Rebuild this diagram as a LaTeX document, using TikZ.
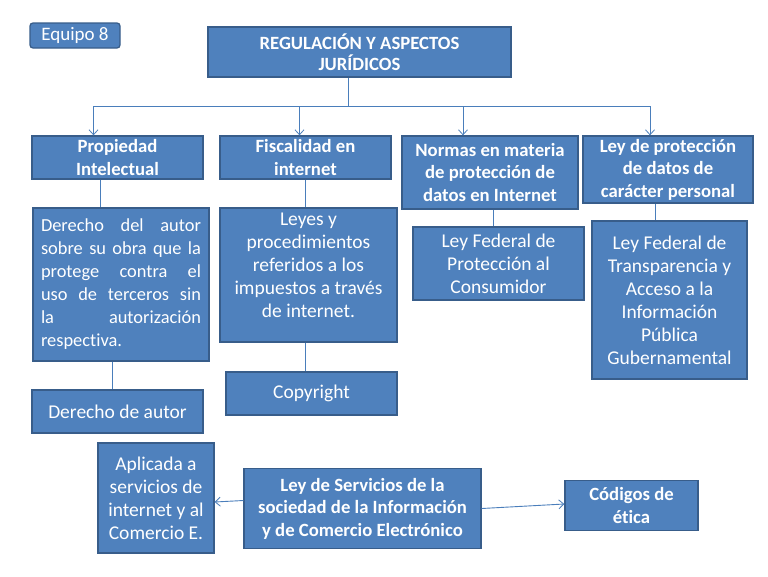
\documentclass[tikz,border=0pt]{standalone}
\usepackage{fontspec}
\setmainfont[Ligatures=NoCommon]{Carlito}
\usetikzlibrary{arrows.meta}
\definecolor{boxfill}{HTML}{4F81BD}
\definecolor{boxborder}{HTML}{385D8A}
\definecolor{linkcol}{HTML}{4A7EBB}
\newcommand{\jline}[1]{\makebox[160pt][l]{#1}}
\tikzset{
  box/.style={draw=boxborder, fill=boxfill, line width=1.3pt, text=white, align=center, inner xsep=5pt, inner ysep=2pt},
  hdr/.style={box, font=\bfseries\fontsize{18.7}{22.5}\selectfont},
  body/.style={box, font=\fontsize{19.5}{23}\selectfont},
  plain/.style={text=white, align=center, font=\fontsize{19.5}{23}\selectfont},
  link/.style={draw=linkcol, line width=0.9pt},
  arr/.style={link, -{Straight Barb[length=5pt,width=9pt,line width=0.8pt]}},
}
\begin{document}
\begin{tikzpicture}[x=1pt,y=-1pt]
\useasboundingbox (0,0) rectangle (768,576);
% nodes
\node[box, rounded corners=3pt, font=\fontsize{19}{22}\selectfont, minimum width=90, minimum height=25, inner ysep=0pt] (team) at (75,35.5) {Equipo 8};
\node[box, font=\bfseries\fontsize{18.7}{21.5}\selectfont, minimum width=303, minimum height=50] (title) at (359.5,52) {REGULACIÓN Y ASPECTOS\\JURÍDICOS};
\node[hdr, minimum width=171, minimum height=43] (pi) at (117.5,157.5) {Propiedad\\Intelectual};
\node[hdr, minimum width=171, minimum height=43] (fi) at (305.5,157.5) {Fiscalidad en\\internet};
\node[hdr, minimum width=176, minimum height=73] (no) at (490,172.5) {Normas en materia\\de protección de\\datos en Internet};
\node[hdr, minimum width=170, minimum height=67] (ley) at (668,169.5) {Ley de protección\\de datos de\\carácter personal};
\node[body, font=\fontsize{18.4}{23}\selectfont, align=left, inner xsep=8pt, minimum width=176, minimum height=153, text width=160] (da) at (121,284.5) {%
\jline{Derecho\hfill del\hfill autor}\\
\jline{sobre\hfill su\hfill obra\hfill que\hfill la}\\
\jline{protege\hfill contra\hfill el}\\
\jline{uso\hfill de\hfill terceros\hfill sin}\\
\jline{la\hfill autorización}\\
respectiva.};
\node[body, minimum width=177, minimum height=134] (lp) at (308.5,275) {};
\node[plain] (lptext) at (308.5,265.5) {Leyes y\\procedimientos\\referidos a los\\impuestos a través\\de internet.};
\node[body, minimum width=171, minimum height=43] (cp) at (311.5,393.5) {Copyright};
\node[body, minimum width=171, minimum height=43] (dau) at (117.5,411.5) {Derecho de autor};
\node[body, minimum width=171, minimum height=73] (lfc) at (498.5,263.5) {Ley Federal de\\Protección al\\Consumidor};
\node[body, minimum width=155, minimum height=158] (lft) at (669.5,300) {Ley Federal de\\Transparencia y\\Acceso a la\\Información\\Pública\\Gubernamental};
\node[body, minimum width=116, minimum height=110] (apl) at (156,498) {Aplicada a\\servicios de\\internet y al\\Comercio E.};
\node[hdr, minimum width=237, minimum height=80] (lss) at (362.5,508.5) {Ley de Servicios de la\\sociedad de la Información\\y de Comercio Electrónico};
\node[hdr, minimum width=133, minimum height=50] (cod) at (631.5,505.5) {Códigos de\\ética};
% connectors
\coordinate (bus) at (348,106);
\draw[link] ([xshift=-11.5pt]title.south) -- ([xshift=-11.5pt]title.south |- bus);
\draw[link] ([xshift=-24pt]pi.north |- bus) -- ([xshift=-18pt]ley.north |- bus);
\draw[arr] ([xshift=-24pt]pi.north |- bus) -- ([xshift=-24pt]pi.north);
\draw[arr] ([xshift=-6pt]fi.north |- bus) -- ([xshift=-6pt]fi.north);
\draw[arr] ([xshift=-27pt]no.north |- bus) -- ([xshift=-27pt]no.north);
\draw[arr] ([xshift=-18pt]ley.north |- bus) -- ([xshift=-18pt]ley.north);
\draw[link] ([xshift=-17.5pt]pi.south) -- ([xshift=-17.5pt]pi.south |- da.north);
\draw[link] ([xshift=-9pt]da.south) -- ([xshift=-9pt]da.south |- dau.north);
\draw[link] ([xshift=-0.5pt]fi.south) -- ([xshift=-0.5pt]fi.south |- lp.north);
\draw[link] ([xshift=-3.5pt]lp.south) -- ([xshift=-3.5pt]lp.south |- cp.north);
\draw[link] ([xshift=3pt]no.south) -- ([xshift=3pt]no.south |- lfc.north);
\draw[link] ([xshift=-13pt]ley.south) -- ([xshift=-13pt]ley.south |- lft.north);
\draw[arr] ([yshift=8pt]lss.west) -- ([yshift=-4pt]apl.east);
\draw[arr] (lss.east) -- ([yshift=1.5pt]cod.west);
\end{tikzpicture}
\end{document}
